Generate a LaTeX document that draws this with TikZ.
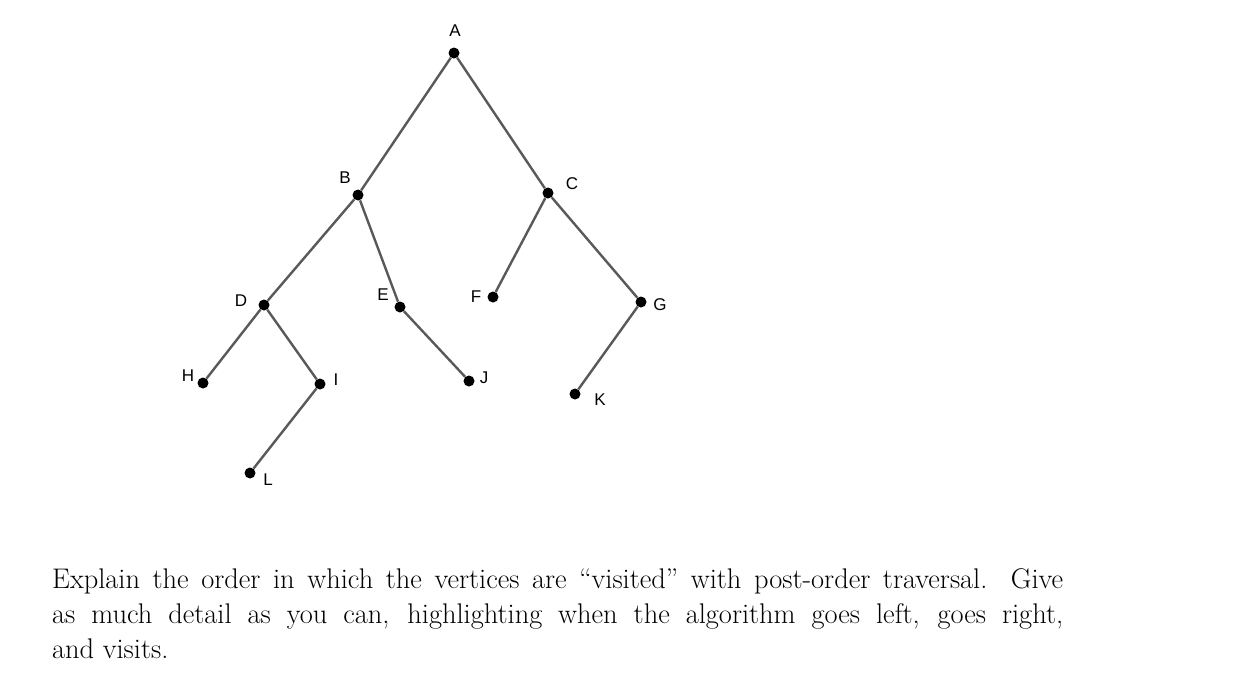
\documentclass[tikz,border=0pt]{standalone}
\usepackage{fontspec}
\newfontfamily\lab{Liberation Sans}
\begin{document}
\begin{tikzpicture}[x=1pt,y=-1pt,
  vtx/.style={circle,fill=black,inner sep=0pt,minimum size=11pt},
  lbl/.style={font=\lab\fontsize{17}{17}\selectfont,inner sep=0pt},
  edge/.style={draw=black!65,line width=2.4pt}]
\useasboundingbox (0,0) rectangle (1236,678);
\foreach \n/\x/\y in {A/454/53,B/358/195,C/548/193,D/264/305,E/400/307,F/493/297,G/641/302,H/203/383,I/320/384,J/469/381,K/575/394,L/250/473}
  \node[vtx] (\n) at (\x,\y) {};
\foreach \a/\b in {A/B,A/C,B/D,B/E,C/F,C/G,D/H,D/I,E/J,G/K,I/L}
  \draw[edge] (\a) -- (\b);
\foreach \n/\x/\y in {A/455/31,B/345/178,C/572/184,D/241/301,E/383/295,F/476/297,G/660/305,H/188/376,I/336/380,J/484/378,K/600/400,L/268/480}
  \node[lbl] (l\n) at (\x,\y) {\n};
\node[anchor=north west,inner sep=0pt,text width=1011pt,align=justify,
  font=\fontsize{24.4}{35}\selectfont] (txt) at (52,568)
  {\fontsize{28.4}{35}\selectfont Explain the order in which the vertices are ``visited'' with post-order traversal. Give\linebreak as much detail as you can, highlighting when the algorithm goes left, goes right,\linebreak and visits.};
\end{tikzpicture}
\end{document}
